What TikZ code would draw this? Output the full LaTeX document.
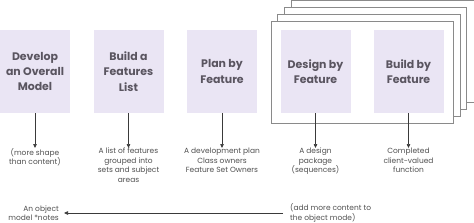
\documentclass[tikz,border=0pt]{standalone}
\usepackage{fontspec}
\setmainfont{Poppins}
\usetikzlibrary{arrows.meta}
\definecolor{boxfill}{HTML}{EAE5F4}
\definecolor{boxtext}{HTML}{5A5560}
\definecolor{frameline}{HTML}{8A8A8A}
\definecolor{arrowline}{HTML}{3A3A3A}
\definecolor{labeltext}{HTML}{505050}
\tikzset{
  stepbox/.style={fill=boxfill, draw=none, minimum width=70bp, minimum height=83bp,
    inner sep=0pt, align=center, text=boxtext, font=\fontsize{11}{15.5}\selectfont\bfseries},
  frame/.style={draw=frameline, line width=0.9bp, fill=white},
  outlbl/.style={anchor=north, align=center, inner sep=0pt, text=labeltext,
    font=\fontsize{7.5}{9.4}\selectfont},
  flow/.style={draw=arrowline, line width=0.7bp, -{Triangle[length=4bp,width=3.5bp]}}
}
\begin{document}
\begin{tikzpicture}[x=1bp,y=-1bp]
\useasboundingbox (0,0) rectangle (474,222);
% stacked frames
\draw[frame] (291,0) rectangle (474,102);
\draw[frame] (284,7) rectangle (466,109);
\draw[frame] (277,14) rectangle (460,116);
\draw[frame] (271,21) rectangle (453,123);
% boxes
\node[stepbox] (b1) at (35,71.5) {Develop\\an Overall\\Model};
\node[stepbox] (b2) at (128.5,71.5) {Build a\\Features\\List};
\node[stepbox] (b3) at (222,71.5) {Plan by\\Feature};
\node[stepbox] (b4) at (315.5,71.5) {Design by\\Feature};
\node[stepbox] (b5) at (408.5,71.5) {Build by\\Feature};
% outputs
\node[outlbl] (o1) at (35,148) {(more shape\\than content)};
\node[outlbl] (o2) at (128.5,148) {A list of features\\grouped into\\sets and subject\\areas};
\node[outlbl] (o3) at (222,148) {A development plan\\Class owners\\Feature Set Owners};
\node[outlbl] (o4) at (315.5,148) {A design\\package\\(sequences)};
\node[outlbl] (o5) at (408.5,148) {Completed\\client-valued\\function};
\foreach \i in {1,...,5} \draw[flow] (b\i.south) -- (o\i.north);
% bottom
\node[outlbl, anchor=east, align=right] (m) at (59,213) {An object\\model *notes};
\node[outlbl, anchor=west, align=left] (n) at (290,213) {(add more content to\\the object mode)};
\coordinate (ns) at (283,213);
\draw[flow, shorten >=5bp] (ns) -- (m.east);
\end{tikzpicture}
\end{document}
